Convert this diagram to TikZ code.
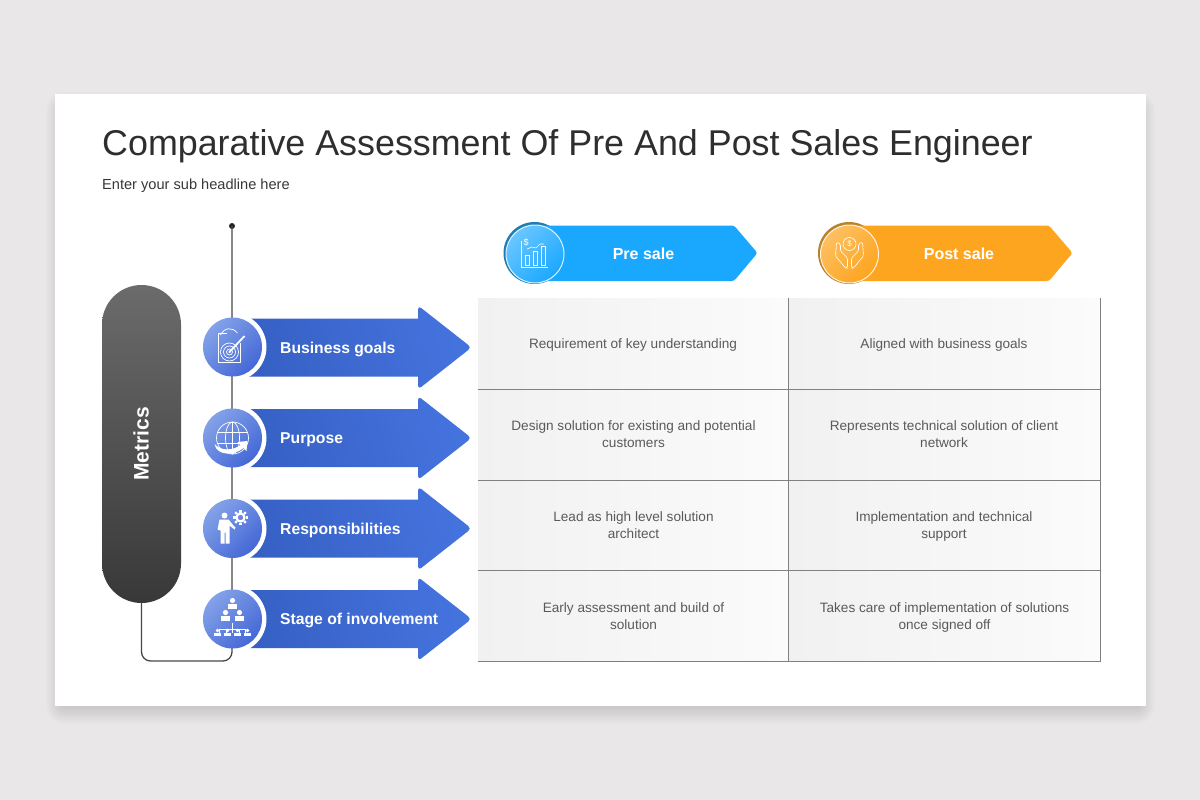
\documentclass[tikz,border=0pt]{standalone}
\usepackage{fontspec}
\setmainfont{Liberation Sans}
\usetikzlibrary{calc}
\definecolor{pagebg}{HTML}{E9E7E8}
\definecolor{rowlo}{HTML}{F1F1F1}
\definecolor{rowhi}{HTML}{FBFBFB}
\definecolor{gridc}{HTML}{808080}
\definecolor{blue1}{HTML}{3660C4}
\definecolor{blue2}{HTML}{4573DE}
\definecolor{disc1}{HTML}{84A2E8}
\definecolor{disc2}{HTML}{4468D6}
\definecolor{sky}{HTML}{1AA8FF}
\definecolor{skyd}{HTML}{1F7DB4}
\definecolor{amber}{HTML}{FDA51F}
\definecolor{amberd}{HTML}{B9832A}
\definecolor{txt}{HTML}{5A5A5A}
\newcommand{\fs}[1]{\fontsize{#1}{#1}\selectfont}
\tikzset{
  x=1pt,y=-1pt,
  wire/.style={draw=black!72,line width=1.3pt},
  grid line/.style={draw=gridc,line width=1.1pt},
  cell/.style={text=txt,align=center,inner sep=0pt,font=\fs{13.6}\setlength{\baselineskip}{17pt},
    execute at begin node=\strut,execute at end node=\strut},
  disc/.style={circle,minimum size=59pt,inner sep=0pt,left color=disc1,right color=disc2,shading angle=45},
  ring/.style={circle,fill=white,minimum size=68pt,inner sep=0pt},
  armlabel/.style={anchor=west,inner sep=0pt,text=white,font=\fs{15.7}\bfseries},
  headlabel/.style={text=white,font=\fs{16}\bfseries},
  ico/.style={draw=white,line width=0.7pt,fill=none},
}
% #1 centre y
\newcommand{\arm}[1]{%
  \shade[left color=blue1,right color=blue2,shading angle=105]
   (240,#1-29) -- (418,#1-29) [rounded corners=4pt] -- (418,#1-42) -- (471.5,#1) -- (418,#1+42) [sharp corners] -- (418,#1+29) -- (240,#1+29) -- cycle;}
\begin{document}
\begin{tikzpicture}
\useasboundingbox (0,0) rectangle (1200,800);
\fill[pagebg] (0,0) rectangle (1200,800);
% card with soft shadow
\foreach \d in {1,2,...,18}{
  \fill[black,opacity=.007,rounded corners=\d pt] (55+9-\d,110-\d) rectangle (1146-9+\d,704+\d*1.1);}
\fill[white] (55,94) rectangle (1146,706);
% title
\node[anchor=base west,inner sep=0pt,text=black!82,font=\fs{35.85}] (title) at (102,155) {Comparative Assessment Of Pre And Post Sales Engineer};
\node[anchor=base west,inner sep=0pt,text=black!78,font=\fs{14.6}] (sub) at (102,189) {Enter your sub headline here};
% table
\foreach \a/\b in {298/389.5,389.5/480.5,480.5/570.5,570.5/661}{
  \shade[left color=rowlo,right color=rowhi] (478,\a) rectangle (789,\b);
  \shade[left color=rowlo,right color=rowhi] (789,\a) rectangle (1100,\b);}
\foreach \y in {389.5,480.5,570.5,661.5}{\draw[grid line] (478,\y) -- (1100,\y);}
\foreach \x in {788.5,1100.5}{\draw[grid line] (\x,298) -- (\x,661.5);}
\node[cell] (a1) at (633,346) {Requirement of key understanding};
\node[cell] (b1) at (944,346) {Aligned with business goals};
\node[cell] (a2) at (633.5,436.5) {Design solution for existing and potential\\customers};
\node[cell] (b2) at (944,436.5) {Represents technical solution of client\\network};
\node[cell] (a3) at (633.5,527.5) {Lead as high level solution\\architect};
\node[cell] (b3) at (944,527.5) {Implementation and technical\\support};
\node[cell] (a4) at (633.5,618) {Early assessment and build of\\solution};
\node[cell] (b4) at (944.5,618) {Takes care of implementation of solutions\\once signed off};
% metrics pill
\shade[top color=black!58,bottom color=black!78]
  (102,324.5) .. controls (102,302.7) and (119.7,285) .. (141.5,285)
  .. controls (163.3,285) and (181,302.7) .. (181,324.5) -- (181,563.5)
  .. controls (181,585.3) and (163.3,603) .. (141.5,603)
  .. controls (119.7,603) and (102,585.3) .. (102,563.5) -- cycle;
\node[minimum width=79pt,minimum height=318pt,inner sep=0pt] (metrics) at (141.5,444) {};
\node[rotate=90,inner sep=0pt,text=white,font=\fs{21}\bfseries] (metricsl) at (141,444) {Metrics};
% arms
\arm{347.5}\arm{438}\arm{528.5}\arm{619}
\node[ring] (r1) at (232.5,347) {};
\node[ring] (r2) at (232.5,438) {};
\node[ring] (r3) at (232.5,528.5) {};
\node[ring] (r4) at (232.5,619) {};
% wire
\coordinate (top) at (232,226);
\coordinate (corner) at (232,661);
\fill[black!85] (top) circle (3pt);
\draw[wire,rounded corners=9pt] (metrics.south) |- (corner) -- (top);
\node[disc] (c1) at (232.5,347) {};
\node[disc] (c2) at (232.5,438) {};
\node[disc] (c3) at (232.5,528.5) {};
\node[disc] (c4) at (232.5,619) {};
\node[armlabel] (l1) at (280,349) {Business goals};
\node[armlabel] (l2) at (280,439.5) {Purpose};
\node[armlabel] (l3) at (280,530) {Responsibilities};
\node[armlabel] (l4) at (280,620.5) {Stage of involvement};
% icon 1: target on clipboard
\begin{scope}[shift={(c1.center)}]
 \draw[ico] (-6,-14) -- (-14,-14) -- (-14,15) -- (8,15) -- (8,-4);
 \draw[ico] (-12,-12) .. controls (-8,-20) and (0,-20) .. (5,-14);
 \draw[ico] (-3,5) circle (9);\draw[ico] (-3,5) circle (6);\draw[ico] (-3,5) circle (3);
 \fill[white] (-3,5) circle (1.2);
 \draw[white,line width=1.8pt] (-3,5) -- (12,-11);
\end{scope}
% icon 2: globe
\begin{scope}[shift={(c2.center)}]
 \draw[ico] (0,0) circle (16);
 \draw[ico] (0,0) ellipse (7 and 16);
 \draw[ico] (0,-16) -- (0,16) (-15.5,-6) -- (15.5,-6) (-15.5,5) -- (15.5,5);
 \fill[white] (-18,6) .. controls (-16,18) and (2,18) .. (11,10) -- (14,13) -- (15,3) -- (5,4) -- (8,7) .. controls (0,13) and (-12,13) .. (-18,6) -- cycle;
\end{scope}
% icon 3: person and gear
\begin{scope}[shift={(c3.center)}]
 \fill[white] (-8,-13) circle (3);
 \fill[white] (-13,-9) -- (-4,-9) -- (1,-3) -- (3,-1) -- (2,1) -- (-3,-3) -- (-3,3) -- (-3,15) -- (-7,15) -- (-7,4) -- (-8,4) -- (-8,15) -- (-12,15) -- (-12,2) -- (-15,1) -- cycle;
 \draw[white,line width=2.2pt] (8,-11) circle (4);
 \foreach \a in {0,45,...,315}{\draw[white,line width=2.2pt] ($(8,-11)+(\a:5)$) -- ($(8,-11)+(\a:7.5)$);}
\end{scope}
% icon 4: org pyramid
\begin{scope}[shift={(c4.center)}]
 \foreach \p/\s in {0/-15,-7/-3,7/-3}{
  \fill[white] (\p,\s-3.5) circle (2.6);
  \fill[white] (\p-4.5,\s+4.5) rectangle (\p+4.5,\s);}
 \draw[white,line width=0.7pt] (-13,10) -- (13,10) (0,4) -- (0,14) (-13,10) -- (-13,14) (13,10) -- (13,14) (-6.5,10) -- (-6.5,14) (6.5,10) -- (6.5,14);
 \foreach \p in {-15,-5,5,15}{
  \fill[white] (\p,11.5) circle (1.8);
  \fill[white] (\p-3.5,17) rectangle (\p+3.5,13.5);}
\end{scope}
% header pre sale
\fill[skyd] (534.5,253) circle (31);
\fill[sky,rounded corners=2.5pt] (535,225.5) -- (734,225.5) -- (757.5,253) -- (734,281) -- (535,281) -- cycle;
\node[circle,minimum size=58pt,inner sep=0pt,left color=sky!65!white,right color=sky,shading angle=45,draw=white!85!sky,line width=1pt] (hp) at (535,254) {};
\node[headlabel] (hpl) at (643.5,253.5) {Pre sale};
\begin{scope}[shift={(hp.center)}]
 \draw[ico,line width=.6pt] (-14,-13) -- (-14,13) -- (13,13);
 \draw[ico,line width=.6pt] (-10,1) rectangle (-6,11) (-2,-3) rectangle (2,11) (6,-8) rectangle (10,11);
 \draw[ico,line width=.6pt] (-8,-5) -- (-3,-7) -- (1,-6) -- (5,-10) -- (9,-10);
 \node[text=white,inner sep=0pt,font=\fs{9}] (dol) at (-9,-12) {\$};
\end{scope}
% header post sale
\fill[amberd] (849,253) circle (31);
\fill[amber,rounded corners=2.5pt] (850,225.5) -- (1049,225.5) -- (1072.5,253) -- (1049,281) -- (850,281) -- cycle;
\node[circle,minimum size=58pt,inner sep=0pt,left color=amber!70!white,right color=amber,shading angle=45,draw=white!85!amber,line width=1pt] (hq) at (849.5,254) {};
\node[headlabel] (hql) at (959,253.5) {Post sale};
\begin{scope}[shift={(hq.center)}]
 \draw[ico,line width=.6pt] (0,-10) circle (6.5);
 \node[text=white,inner sep=0pt,font=\fs{8}] (dol2) at (0,-10) {\$};
 \draw[ico,line width=.6pt,rounded corners=1.5pt] (-13,-12) -- (-14,2) -- (-4,14) -- (-2,14) -- (-2,4) -- (-9,-3) -- (-9,-10) -- cycle;
 \draw[ico,line width=.6pt,rounded corners=1.5pt] (13,-12) -- (14,2) -- (4,14) -- (2,14) -- (2,4) -- (9,-3) -- (9,-10) -- cycle;
\end{scope}
\end{tikzpicture}
\end{document}
